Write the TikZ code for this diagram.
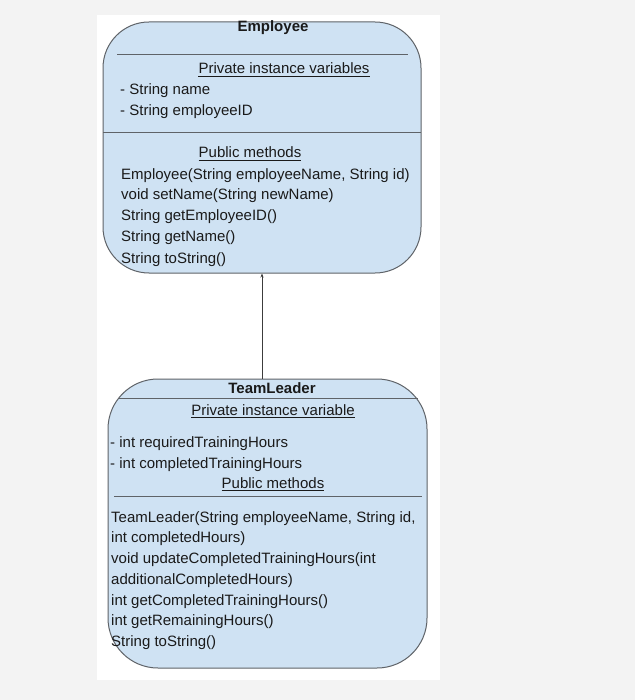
\documentclass[tikz,border=0pt]{standalone}
\usepackage{fontspec}
\setmainfont{Liberation Sans}
\usetikzlibrary{arrows.meta}
\definecolor{bg}{HTML}{F3F3F3}
\definecolor{boxfill}{HTML}{CFE2F3}
\definecolor{boxline}{HTML}{5F6368}
\definecolor{ink}{HTML}{1A1A1A}
\begin{document}
\begin{tikzpicture}[x=1pt,y=-1pt,
  classbox/.style={draw=boxline, fill=boxfill, line width=1pt, rounded corners=46pt, inner sep=0pt},
  txt/.style={inner sep=0pt, anchor=base west, font=\fontsize{15}{18}\selectfont, text=ink},
  ctxt/.style={inner sep=0pt, anchor=base, font=\fontsize{15}{18}\selectfont, text=ink},
  title/.style={inner sep=0pt, anchor=base, font=\fontsize{15}{18}\selectfont\bfseries, text=ink},
  sep/.style={draw=boxline, line width=0.8pt},
  ul/.style={draw=ink, line width=0.6pt},
  inherit/.style={draw=ink!85, line width=0.7pt, -{Stealth[length=4pt,width=3pt]}}
]
\fill[bg] (0,0) rectangle (635,700);
\useasboundingbox (0,0) rectangle (635,700);
\fill[white] (97,15) rectangle (440,680);

% Employee class
\node[classbox, minimum width=318pt, minimum height=251pt] (emp) at (262,147.5) {};
\node[title] (en) at (273,32) {Employee};
\draw[sep] (117,54) -- (408,54);
\node[ctxt] (epv) at (284,74) {Private instance variables};
\draw[ul] ([yshift=-2pt]epv.base west) -- ([yshift=-2pt]epv.base east);
\node[txt] (ev1) at (120,95) {- String name};
\node[txt] (ev2) at (120,116) {- String employeeID};
\draw[sep] (103,132) -- (421,132);
\node[ctxt] (epm) at (250,158) {Public methods};
\draw[ul] ([yshift=-2pt]epm.base west) -- ([yshift=-2pt]epm.base east);
\node[txt] (em1) at (121,180) {Employee(String employeeName, String id)};
\node[txt] (em2) at (121,200) {void setName(String newName)};
\node[txt] (em3) at (121,221) {String getEmployeeID()};
\node[txt] (em4) at (121,242) {String getName()};
\node[txt] (em5) at (121,263) {String toString()};

% TeamLeader class
\node[classbox, rounded corners=50pt, minimum width=319pt, minimum height=289pt] (tl) at (267.5,523.5) {};
\node[title] (tn) at (272,393) {TeamLeader};
\draw[sep] (118,398) -- (418,398);
\node[ctxt] (tpv) at (273,415) {Private instance variable};
\draw[ul] ([yshift=-2pt]tpv.base west) -- ([yshift=-2pt]tpv.base east);
\node[txt] (tv1) at (110,447) {- int requiredTrainingHours};
\node[txt] (tv2) at (110,468) {- int completedTrainingHours};
\node[ctxt] (tpm) at (273,488) {Public methods};
\draw[ul] ([yshift=-2pt]tpm.base west) -- ([yshift=-2pt]tpm.base east);
\draw[sep] (114,496) -- (422,496);
\node[txt] (tm1) at (111,522) {TeamLeader(String employeeName, String id,};
\node[txt] (tm2) at (111,542) {int completedHours)};
\node[txt] (tm3) at (111,563) {void updateCompletedTrainingHours(int};
\node[txt] (tm4) at (111,584) {additionalCompletedHours)};
\node[txt] (tm5) at (111,605) {int getCompletedTrainingHours()};
\node[txt] (tm6) at (111,625) {int getRemainingHours()};
\node[txt] (tm7) at (111,646) {String toString()};

% inheritance arrow
\draw[inherit] (tl.north -| emp.south) -- (emp.south);
\end{tikzpicture}
\end{document}
